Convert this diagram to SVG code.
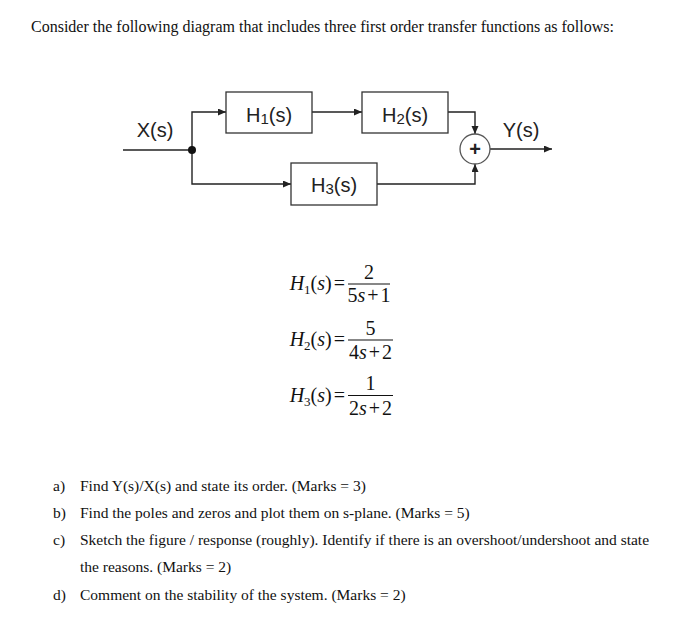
<svg xmlns="http://www.w3.org/2000/svg" width="700" height="630" viewBox="0 0 700 630">
<style>
.txt{font-family:"Liberation Serif","Times New Roman",serif;font-size:16px;fill:#111}
.q{font-size:15.5px}
.lbl{font-family:"Liberation Sans",Arial,sans-serif;font-size:20px;fill:#222}
.box{fill:#fff;stroke:#333;stroke-width:1.3}
.wire{fill:none;stroke:#222;stroke-width:1.4}
.math{font-family:"Liberation Serif","Times New Roman",serif;font-size:20px;fill:#111}
.it{font-style:italic}
.bar{stroke:#111;stroke-width:1.1}
</style>
<defs>
<marker id="arr" markerUnits="userSpaceOnUse" markerWidth="9" markerHeight="8" refX="8" refY="3.5" orient="auto">
<path d="M0,0 L8,3.5 L0,7 z" fill="#222"/>
</marker>
</defs>
<rect width="700" height="630" fill="#fff"/>
<text class="txt" x="31" y="32">Consider the following diagram that includes three first order transfer functions as follows:</text>

<g id="connectors">
<path class="wire" d="M123,150 H192"/>
<path class="wire" d="M192,150 V112 H226" marker-end="url(#arr)"/>
<path class="wire" d="M192,150 V184 H291" marker-end="url(#arr)"/>
<path class="wire" d="M312,112 H362" marker-end="url(#arr)"/>
<path class="wire" d="M448,112 H475 V134" marker-end="url(#arr)"/>
<path class="wire" d="M377,184 H475 V164" marker-end="url(#arr)"/>
<path class="wire" d="M490,149 H552" marker-end="url(#arr)"/>
</g>

<g id="node-x">
<text class="lbl" x="155" y="137" text-anchor="middle">X(s)</text>
</g>
<g id="junction">
<circle cx="192" cy="150" r="4" fill="#111"/>
</g>
<g id="node-h1">
<rect class="box" x="226" y="92" width="86" height="41"/>
<text class="lbl" x="269" y="122" text-anchor="middle">H<tspan font-size="15" dy="2">1</tspan><tspan dy="-2">(s)</tspan></text>
</g>
<g id="node-h2">
<rect class="box" x="362" y="92" width="86" height="41"/>
<text class="lbl" x="405" y="122" text-anchor="middle">H<tspan font-size="15" dy="2">2</tspan><tspan dy="-2">(s)</tspan></text>
</g>
<g id="node-h3">
<rect class="box" x="291" y="163" width="86" height="42"/>
<text class="lbl" x="334" y="192" text-anchor="middle">H<tspan font-size="15" dy="2">3</tspan><tspan dy="-2">(s)</tspan></text>
</g>
<g id="node-sum">
<circle cx="475" cy="149" r="15" fill="#fff" stroke="#555" stroke-width="1.3"/>
<text class="lbl" x="475" y="155.5" font-size="19" font-weight="bold" text-anchor="middle">+</text>
</g>
<g id="node-y">
<text class="lbl" x="521" y="137" text-anchor="middle">Y(s)</text>
</g>

<g id="eq1">
<text class="math" x="345" y="290" text-anchor="end"><tspan class="it">H</tspan><tspan font-size="13" dy="4">1</tspan><tspan dy="-4">(</tspan><tspan class="it">s</tspan>)<tspan dx="2">=</tspan></text>
<line class="bar" x1="348" y1="284" x2="390" y2="284"/>
<text class="math" x="369" y="278.5" text-anchor="middle">2</text>
<text class="math" x="369" y="301.5" text-anchor="middle">5<tspan class="it">s</tspan><tspan dx="2">+</tspan><tspan dx="2">1</tspan></text>
</g>
<g id="eq2">
<text class="math" x="345" y="346" text-anchor="end"><tspan class="it">H</tspan><tspan font-size="13" dy="4">2</tspan><tspan dy="-4">(</tspan><tspan class="it">s</tspan>)<tspan dx="2">=</tspan></text>
<line class="bar" x1="348" y1="340" x2="393" y2="340"/>
<text class="math" x="370.5" y="334.5" text-anchor="middle">5</text>
<text class="math" x="370.5" y="358.5" text-anchor="middle">4<tspan class="it">s</tspan><tspan dx="2">+</tspan><tspan dx="2">2</tspan></text>
</g>
<g id="eq3">
<text class="math" x="345" y="401.5" text-anchor="end"><tspan class="it">H</tspan><tspan font-size="13" dy="4">3</tspan><tspan dy="-4">(</tspan><tspan class="it">s</tspan>)<tspan dx="2">=</tspan></text>
<line class="bar" x1="348" y1="395.5" x2="393" y2="395.5"/>
<text class="math" x="370.5" y="390" text-anchor="middle">1</text>
<text class="math" x="370.5" y="414.5" text-anchor="middle">2<tspan class="it">s</tspan><tspan dx="2">+</tspan><tspan dx="2">2</tspan></text>
</g>

<g id="questions">
<text class="txt q" x="53" y="491">a)</text>
<text class="txt q" x="80" y="491">Find Y(s)/X(s) and state its order. (Marks = 3)</text>
<text class="txt q" x="53" y="518">b)</text>
<text class="txt q" x="80" y="518">Find the poles and zeros and plot them on s-plane. (Marks = 5)</text>
<text class="txt q" x="53" y="545">c)</text>
<text class="txt q" x="80" y="545">Sketch the figure / response (roughly). Identify if there is an overshoot/undershoot and state</text>
<text class="txt q" x="80" y="572">the reasons. (Marks = 2)</text>
<text class="txt q" x="53" y="600">d)</text>
<text class="txt q" x="80" y="600">Comment on the stability of the system. (Marks = 2)</text>
</g>
</svg>
